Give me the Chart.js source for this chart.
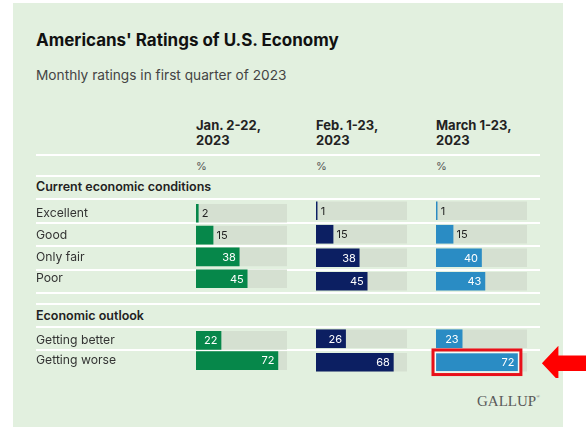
<!DOCTYPE html>
<html>
<head>
<meta charset="utf-8">
<script src="https://cdn.jsdelivr.net/npm/chart.js@4.4.1/dist/chart.umd.min.js"></script>
<style>
  body { margin: 0; width: 586px; height: 434px; overflow: hidden; position: relative; background: #fff; font-family: Inter, "Noto Sans", sans-serif; }
  #panel { position: absolute; left: 13px; top: 3px; width: 550px; height: 424px; background: #e2f0df; }
  .t { position: absolute; white-space: nowrap; }
  .rule { position: absolute; left: 36px; width: 504px; height: 2px; background: #fff; }
  canvas { position: absolute; }
  #title { left: 36px; top: 31.5px; font-size: 17px; line-height: 17px; font-weight: 700; color: #111; }
  #subtitle { left: 36px; top: 67.5px; font-size: 13.7px; line-height: 14px; color: #444; }
  .head { font-size: 13px; line-height: 15px; font-weight: 700; color: #222; top: 117.5px; }
  .pct { font-size: 11px; line-height: 11px; color: #555; top: 161px; }
  .section { left: 36px; font-size: 12.5px; line-height: 13px; font-weight: 600; color: #222; }
  #gallup { right: 46px; top: 389px; font-family: "Liberation Serif", serif; font-size: 15px; line-height: 15px; color: #5a5a5a; }
  #gallup sup { font-size: 5px; vertical-align: 8px; }
</style>
</head>
<body>
<div id="panel"></div>
<div class="t" id="title">Americans' Ratings of U.S. Economy</div>
<div class="t" id="subtitle">Monthly ratings in first quarter of 2023</div>
<div class="t section" style="top:180px">Current economic conditions</div>
<div class="t section" style="top:308.5px">Economic outlook</div>
<div class="t" id="gallup">GALLUP<sup>®</sup></div>

<script>
// data
const periods = [["Jan. 2-22,", "2023"], ["Feb. 1-23,", "2023"], ["March 1-23,", "2023"]];
const currentRows = ["Excellent", "Good", "Only fair", "Poor"];
const outlookRows = ["Getting better", "Getting worse"];
const currentJan = [2, 15, 38, 45];
const currentFeb = [1, 15, 38, 45];
const currentMar = [1, 15, 40, 43];
const outlookJan = [22, 72];
const outlookFeb = [26, 68];
const outlookMar = [23, 72];
const trackMax = 80;

const periodColors = ["#06874a", "#0c1f62", "#2a8cc4"];
const trackColor = "#d5e0d1";

// layout
const colX = [196, 316, 436];
const TRACK_W = 91;
const LABEL_W = 160;
const PITCH = 23.5;
const currentTop = 199;
const outlookTop = 326.75;
const ruleY = [155, 175.5, 199, 222.5, 246, 269.5, 293, 303.5, 326.75, 350.25];

ruleY.forEach(y => {
  const d = document.createElement("div");
  d.className = "rule";
  d.style.top = (y - 1) + "px";
  document.body.appendChild(d);
});

periods.forEach((p, i) => {
  const h = document.createElement("div");
  h.className = "t head";
  h.style.left = colX[i] + "px";
  h.innerHTML = p[0] + "<br>" + p[1];
  document.body.appendChild(h);
  const pc = document.createElement("div");
  pc.className = "t pct";
  pc.style.left = colX[i] + "px";
  pc.textContent = "%";
  document.body.appendChild(pc);
});

const valueLabels = {
  id: "valueLabels",
  afterDatasetsDraw(chart) {
    const ctx = chart.ctx;
    const values = chart.data.datasets[0].data;
    ctx.save();
    ctx.font = "11px Inter";
    ctx.textBaseline = "middle";
    chart.getDatasetMeta(0).data.forEach((bar, i) => {
      const txt = String(values[i]);
      const w = ctx.measureText(txt).width;
      if (bar.x - bar.base > w + 7) {
        ctx.fillStyle = "#fff";
        ctx.textAlign = "right";
        ctx.fillText(txt, bar.x - 3.5, bar.y + 0.5);
      } else {
        ctx.fillStyle = "#222";
        ctx.textAlign = "left";
        ctx.fillText(txt, bar.x + 3.5, bar.y + 0.5);
      }
    });
    ctx.restore();
  }
};

const highlight = {
  id: "highlight",
  afterDraw(chart, args, opts) {
    if (opts.index == null) return;
    const bar = chart.getDatasetMeta(0).data[opts.index];
    const ctx = chart.ctx;
    ctx.save();
    ctx.strokeStyle = "rgba(255,255,255,0.85)";
    ctx.lineWidth = 1.2;
    ctx.strokeRect(bar.base - 0.5, bar.y - 9.5, bar.x - bar.base + 1, 19);
    ctx.strokeStyle = "#e8101a";
    ctx.lineWidth = 3;
    ctx.strokeRect(bar.base - 3, bar.y - 12.3, bar.x - bar.base + 6, 24.6);
    // arrow pointing at the bar
    const tip = bar.x + 24, cy = bar.y + 1;
    ctx.fillStyle = "#f00";
    ctx.beginPath();
    ctx.moveTo(tip, cy);
    ctx.lineTo(tip + 16.5, cy - 17.5);
    ctx.lineTo(tip + 16.5, cy - 7.8);
    ctx.lineTo(chart.width, cy - 7.8);
    ctx.lineTo(chart.width, cy + 7.8);
    ctx.lineTo(tip + 16.5, cy + 7.8);
    ctx.lineTo(tip + 16.5, cy + 17.5);
    ctx.closePath();
    ctx.fill();
    ctx.restore();
  }
};

function makeChart(rows, values, color, x, top, showLabels, hiIndex) {
  const pad = { left: 6, right: hiIndex == null ? 20 : 60, top: 4, bottom: 4 };
  const labelW = showLabels ? LABEL_W : 0;
  const canvas = document.createElement("canvas");
  canvas.width = pad.left + labelW + TRACK_W + pad.right;
  canvas.height = pad.top + rows.length * PITCH + pad.bottom;
  canvas.style.left = (x - pad.left - labelW) + "px";
  canvas.style.top = (top - pad.top) + "px";
  document.body.appendChild(canvas);

  new Chart(canvas, {
    type: "bar",
    data: {
      labels: rows,
      datasets: [
        { data: values, backgroundColor: color, barThickness: 18, grouped: false },
        { data: rows.map(() => trackMax), backgroundColor: trackColor, barThickness: 18, grouped: false }
      ]
    },
    options: {
      indexAxis: "y",
      responsive: false,
      animation: false,
      devicePixelRatio: 1,
      layout: { padding: pad },
      plugins: {
        legend: { display: false },
        tooltip: { enabled: false },
        highlight: { index: hiIndex }
      },
      scales: {
        x: { display: false, min: 0, max: trackMax },
        y: {
          display: showLabels,
          grid: { display: false },
          border: { display: false },
          ticks: { crossAlign: "far", padding: 0, color: "#333", font: { family: "Inter", size: 12.2 } },
          afterFit: s => { s.width = showLabels ? LABEL_W : 0; }
        }
      }
    },
    plugins: [valueLabels, highlight]
  });
}

const currentSeries = [currentJan, currentFeb, currentMar];
const outlookSeries = [outlookJan, outlookFeb, outlookMar];
for (let i = 0; i < 3; i++) {
  makeChart(currentRows, currentSeries[i], periodColors[i], colX[i], currentTop, i === 0, null);
  makeChart(outlookRows, outlookSeries[i], periodColors[i], colX[i], outlookTop, i === 0, i === 2 ? 1 : null);
}
</script>
</body>
</html>
